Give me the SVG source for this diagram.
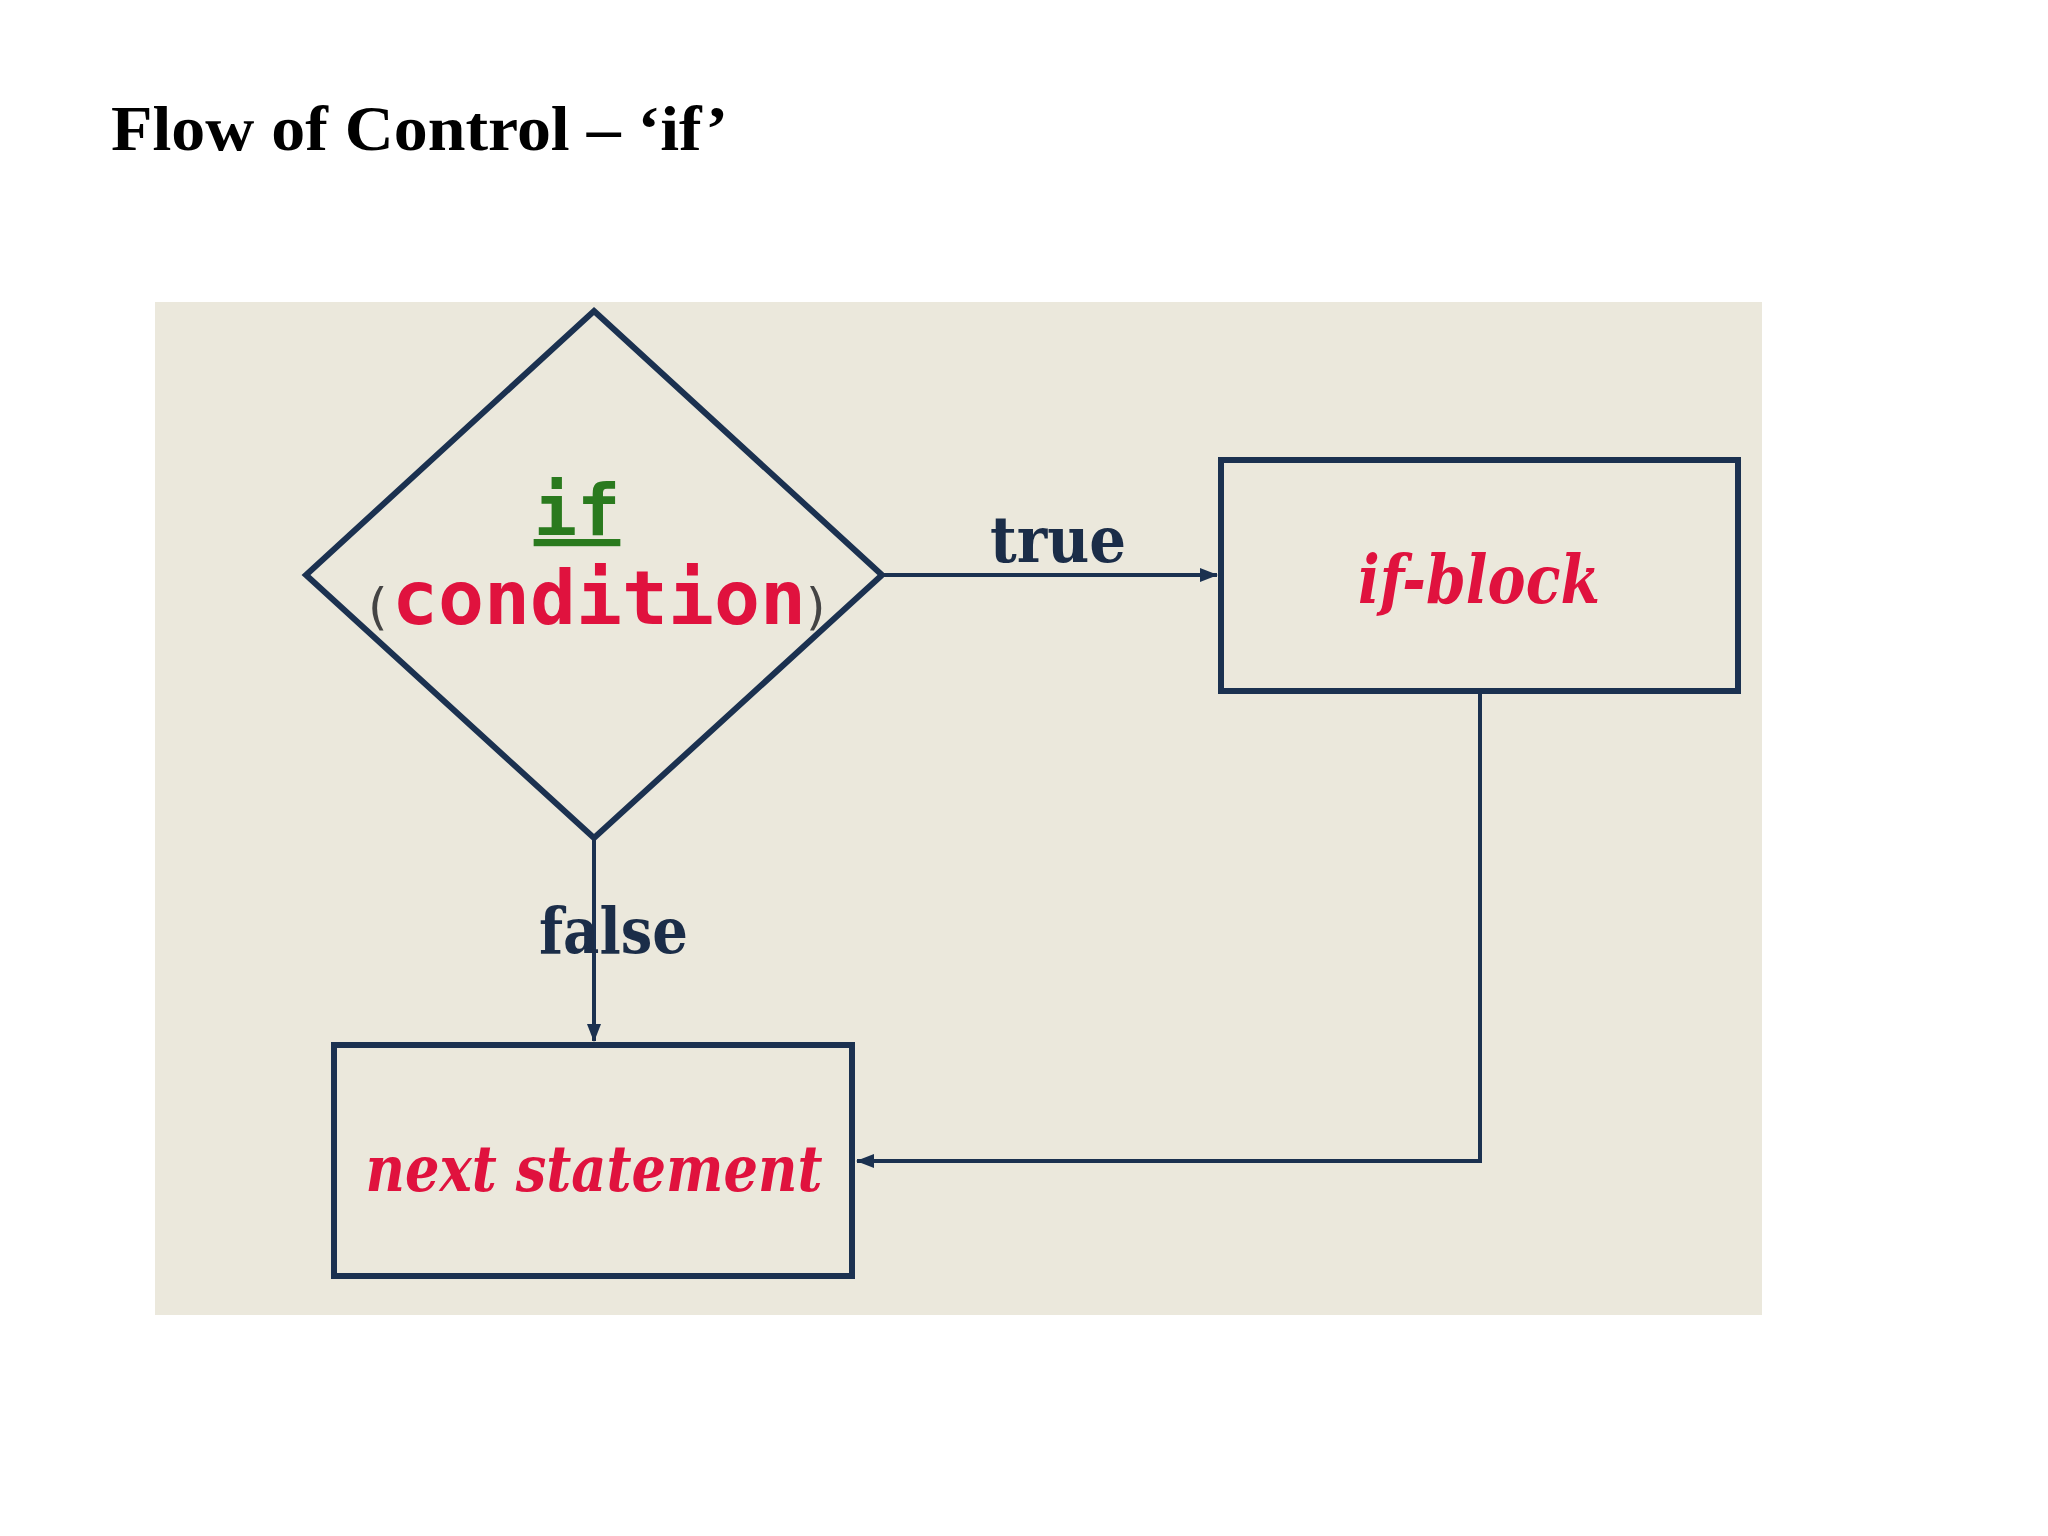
<svg xmlns="http://www.w3.org/2000/svg" width="2048" height="1536" viewBox="0 0 2048 1536">
<style>
.ln{fill:none;stroke:#1b3150;stroke-width:6}
.red{fill:#e0123e;font-weight:bold;font-style:italic}
.lbl{fill:#1b2d48;font-family:"DejaVu Serif","Liberation Serif",serif;font-weight:bold}
</style>
<defs><marker id="ah" markerWidth="18" markerHeight="14" refX="17" refY="7" orient="auto" markerUnits="userSpaceOnUse" viewBox="0 0 18 14"><path d="M0,0L18,7L0,14z" fill="#1b3150"/></marker></defs>
<rect width="2048" height="1536" fill="#fff"/>
<text x="111" y="150" font-family="Liberation Serif,serif" font-weight="bold" font-size="64" textLength="617" lengthAdjust="spacingAndGlyphs">Flow of Control – ‘if’</text>
<rect x="155" y="302" width="1607" height="1013" fill="#ebe8dc"/>
<g id="decision">
<polygon class="ln" points="594,311 882,575 594,838 306,575"/>
<text x="577" y="535" text-anchor="middle" font-family="DejaVu Sans Mono,monospace" font-weight="bold" font-size="72" fill="#2a7a1e" text-decoration="underline">if</text>
<text x="392" y="624" font-family="DejaVu Sans Mono,monospace" font-size="74" font-weight="bold" fill="#e0123e" textLength="414" lengthAdjust="spacingAndGlyphs">condition</text>
<text x="368" y="624" font-family="DejaVu Sans,sans-serif" font-size="50" fill="#444">(</text>
<text x="806" y="624" font-family="DejaVu Sans,sans-serif" font-size="50" fill="#444">)</text>
</g>
<g id="ifblock">
<rect class="ln" x="1221" y="460" width="517" height="231"/>
<text x="1479" y="603" text-anchor="middle" class="red" font-family="DejaVu Serif,serif" font-size="68" textLength="242" lengthAdjust="spacingAndGlyphs">if-block</text>
</g>
<g id="next">
<rect class="ln" x="334" y="1045" width="518" height="231"/>
<text x="594" y="1191" text-anchor="middle" class="red" font-family="DejaVu Serif,serif" font-size="64" textLength="457" lengthAdjust="spacingAndGlyphs">next statement</text>
</g>
<g id="connectors">
<line class="ln" style="stroke-width:4" x1="882" y1="575" x2="1217" y2="575" marker-end="url(#ah)"/>
<line class="ln" style="stroke-width:4" x1="594" y1="838" x2="594" y2="1041" marker-end="url(#ah)"/>
<polyline class="ln" style="stroke-width:4" points="1480,691 1480,1161 857,1161" marker-end="url(#ah)"/>
<text class="lbl" x="990" y="562" font-size="64" textLength="136" lengthAdjust="spacingAndGlyphs">true</text>
<text class="lbl" x="539" y="953" font-size="64" textLength="149" lengthAdjust="spacingAndGlyphs">false</text>
</g>
</svg>
